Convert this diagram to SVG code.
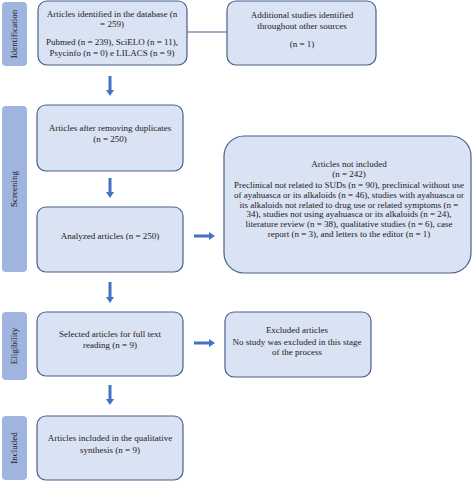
<svg xmlns="http://www.w3.org/2000/svg" width="474" height="482" viewBox="0 0 474 482">
<style>
.box{fill:#dae3f3;stroke:#4a5f8c;stroke-width:1.2}
.side{fill:#9fb4df}
.t{font-family:"Liberation Serif","Times New Roman",serif;font-size:9px;fill:#1a1a1a;text-anchor:middle}
.s{font-family:"Liberation Serif","Times New Roman",serif;font-size:9px;fill:#1a1a1a;text-anchor:middle}
.arr{fill:#4472c4}
</style>
<rect width="474" height="482" fill="#ffffff"/>
<g id="side-identification"><rect class="side" x="2" y="2" width="25" height="64" rx="4"/><text class="s" transform="translate(17,34) rotate(-90)">Identification</text></g>
<g id="side-screening"><rect class="side" x="2" y="106" width="25" height="166" rx="4"/><text class="s" transform="translate(17,189) rotate(-90)">Screening</text></g>
<g id="side-eligibility"><rect class="side" x="2" y="312" width="25" height="68" rx="4"/><text class="s" transform="translate(17,346) rotate(-90)">Eligibility</text></g>
<g id="side-included"><rect class="side" x="2" y="416" width="25" height="64" rx="4"/><text class="s" transform="translate(17,448) rotate(-90)">Included</text></g>

<g id="connectors">
<line x1="187" y1="32" x2="227" y2="32" stroke="#4a5f8c" stroke-width="1.2"/>
<polygon class="arr" points="108.5,76 111.5,76 111.5,90 114,90 110,96 106,90 108.5,90"/>
<polygon class="arr" points="108.5,178 111.5,178 111.5,192 114,192 110,198 106,192 108.5,192"/>
<polygon class="arr" points="108.5,282 111.5,282 111.5,297 114,297 110,303 106,297 108.5,297"/>
<polygon class="arr" points="108.5,385 111.5,385 111.5,399 114,399 110,405 106,399 108.5,399"/>
<polygon class="arr" points="194,234.5 209,234.5 209,232 215,236 209,240 209,237.5 194,237.5"/>
<polygon class="arr" points="194,341.5 209,341.5 209,339 215,343 209,347 209,344.5 194,344.5"/>
</g>

<g id="box-identified"><rect class="box" x="38" y="1" width="149" height="64" rx="9"/>
<text class="t" x="112" y="16.5">Articles identified in the database (n</text>
<text class="t" x="112" y="27">= 259)</text>
<text class="t" x="112" y="45">Pubmed (n = 239), SciELO (n = 11),</text>
<text class="t" x="112" y="55.5">Psycinfo (n = 0) e LILACS (n = 9)</text></g>

<g id="box-additional"><rect class="box" x="227" y="1" width="149" height="64" rx="9"/>
<text class="t" x="302" y="18">Additional studies identified</text>
<text class="t" x="302" y="29">throughout other sources</text>
<text class="t" x="302" y="47">(n = 1)</text></g>

<g id="box-duplicates"><rect class="box" x="37" y="105" width="146" height="66" rx="9"/>
<text class="t" x="110" y="131">Articles after removing duplicates</text>
<text class="t" x="110" y="142">(n = 250)</text></g>

<g id="box-analyzed"><rect class="box" x="37" y="207" width="146" height="65" rx="9"/>
<text class="t" x="110" y="239">Analyzed articles (n = 250)</text></g>

<g id="box-not-included"><rect class="box" x="224" y="136" width="247" height="137" rx="20"/>
<text class="t" x="349" y="167">Articles not included</text>
<text class="t" x="349" y="177">(n = 242)</text>
<text class="t" x="349" y="187.5">Preclinical not related to SUDs (n = 90), preclinical without use</text>
<text class="t" x="349" y="197.5">of ayahuasca or its alkaloids (n = 46), studies with ayahuasca or</text>
<text class="t" x="349" y="207.5">its alkaloids not related to drug use or related symptoms (n =</text>
<text class="t" x="349" y="217">34), studies not using ayahuasca or its alkaloids (n = 24),</text>
<text class="t" x="349" y="227">literature review (n = 38), qualitative studies (n = 6), case</text>
<text class="t" x="349" y="237">report (n = 3), and letters to the editor (n = 1)</text></g>

<g id="box-selected"><rect class="box" x="37" y="312" width="146" height="64" rx="9"/>
<text class="t" x="110" y="337">Selected articles for full text</text>
<text class="t" x="110" y="348">reading (n = 9)</text></g>

<g id="box-excluded"><rect class="box" x="225" y="312" width="146" height="65" rx="9"/>
<text class="t" x="297" y="333">Excluded articles</text>
<text class="t" x="297" y="344.5">No study was excluded in this stage</text>
<text class="t" x="297" y="355">of the process</text></g>

<g id="box-included"><rect class="box" x="37" y="416" width="146" height="64" rx="9"/>
<text class="t" x="110" y="441">Articles included in the qualitative</text>
<text class="t" x="110" y="453">synthesis (n = 9)</text></g>
</svg>
